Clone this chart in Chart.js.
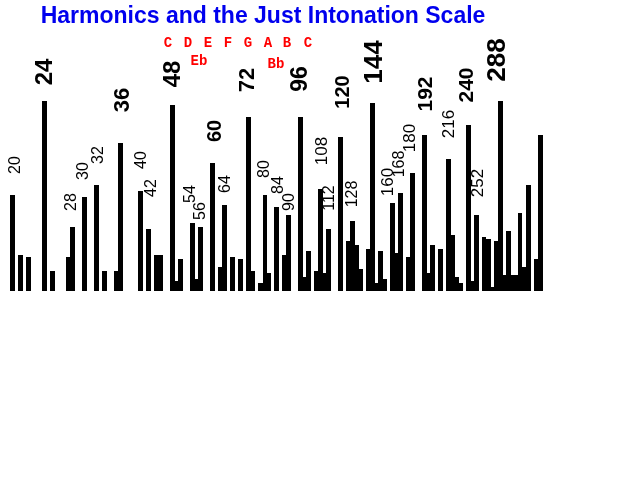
<!DOCTYPE html>
<html><head><meta charset="utf-8">
<script src="https://cdn.jsdelivr.net/npm/chart.js@4/dist/chart.umd.min.js"></script>
<style>html,body{margin:0;padding:0;background:#fff}#c{display:block}</style>
</head><body>
<div style="width:640px;height:480px"><canvas id="c" width="640" height="480"></canvas></div>
<script>
// column edges (x start of each block) and the bar height from that edge
const edges = [10,15,18,23,26,31,42,47,50,55,66,70,75,82,87,94,99,102,107,114,118,123,138,143,146,151,154,163,170,175,178,183,190,195,198,203,210,215,218,222,227,230,235,238,243,246,251,255,258,263,267,271,274,279,282,286,291,298,303,306,311,314,318,323,326,331,338,343,346,350,355,359,363,366,370,375,378,383,387,390,395,398,403,406,410,415,422,427,430,435,438,443,446,451,455,459,463,466,471,474,479,482,486,491,494,498,503,506,511,518,522,526,531,534,538,543];
const heights = [96,0,36,0,34,0,190,0,20,0,34,64,0,94,0,106,0,20,0,20,148,0,100,0,62,0,36,0,186,10,32,0,68,12,64,0,128,0,24,86,0,34,0,32,0,174,20,0,8,96,18,0,84,0,36,76,0,174,14,40,0,20,102,18,62,0,154,0,50,70,46,22,0,42,188,8,40,12,0,88,38,98,0,34,118,0,156,18,46,0,42,0,132,56,14,8,0,166,10,76,0,54,52,4,50,190,16,60,16,78,24,106,0,32,156,0];
// harmonic labels: text, x, y, font size, bold
const harmLabels = ["20","24","28","30","32","36","40","42","48","54","56","60","64","72","80","84","90","96","108","112","120","128","144","160","168","180","192","216","240","252","288"];
const harmX = [16,45,72,84,99,123,142,152,173,191,201,215,226,248,265,279,290,301,322,330,343,353,375,388,400,410,426,449,467,478,498];
const harmY = [165,72,202,171,155,100,160,188,74,194,211,131,184,80,169,185,202,79,151,198,92,194,62,182,164,138,94,124,85,183,60];
const harmSize = [16,24,16,16,16,22,16,16,24,16,16,20,16,22,16,16,16,23,17,16,20,16,26,17,16,17,21,17,21,17,26];
const harmBold = [0,1,0,0,0,1,0,0,1,0,0,1,0,1,0,0,0,1,0,0,1,0,1,0,0,0,1,0,1,0,1];
const notes = ["C","D","E","F","G","A","B","C","Eb","Bb"];
const noteX = [168,188,208,228,248,268,287,308,199,276];
const noteY = [43,43,43,43,43,43,43,43,61,64];

const textPlugin = {
  id:'texts',
  afterDraw(chart){
    const ctx = chart.ctx;
    ctx.save();
    ctx.fillStyle='#0000ee';
    ctx.font='bold 23px Arial, "Liberation Sans"';
    ctx.textAlign='center'; ctx.textBaseline='middle';
    ctx.fillText('Harmonics and the Just Intonation Scale',263,17);
    ctx.fillStyle='#000';
    harmLabels.forEach((t,i)=>{
      ctx.save();
      ctx.translate(harmX[i],harmY[i]);
      ctx.rotate(-Math.PI/2);
      ctx.font=(harmBold[i]?'bold ':'')+harmSize[i]+'px Arial, "Liberation Sans"';
      ctx.fillText(t,0,0);
      ctx.restore();
    });
    ctx.fillStyle='#ff0000';
    ctx.font='bold 14px "Liberation Mono", "Courier New", monospace';
    notes.forEach((t,i)=>ctx.fillText(t,noteX[i],noteY[i]));
    ctx.restore();
  }
};

new Chart(document.getElementById('c'),{
  type:'line',
  data:{datasets:[{
    data: edges.map((x,i)=>({x:x,y:heights[i]})),
    stepped:'before', fill:'origin', backgroundColor:'#000', borderWidth:0, pointRadius:0
  }]},
  options:{
    responsive:false, animation:false, devicePixelRatio:1,
    layout:{padding:{left:0,right:0,top:0,bottom:189}},
    plugins:{legend:{display:false},tooltip:{enabled:false},title:{display:false}},
    scales:{
      x:{type:'linear',min:0,max:640,display:false},
      y:{min:0,max:291,display:false}
    }
  },
  plugins:[textPlugin]
});
</script>
</body></html>
